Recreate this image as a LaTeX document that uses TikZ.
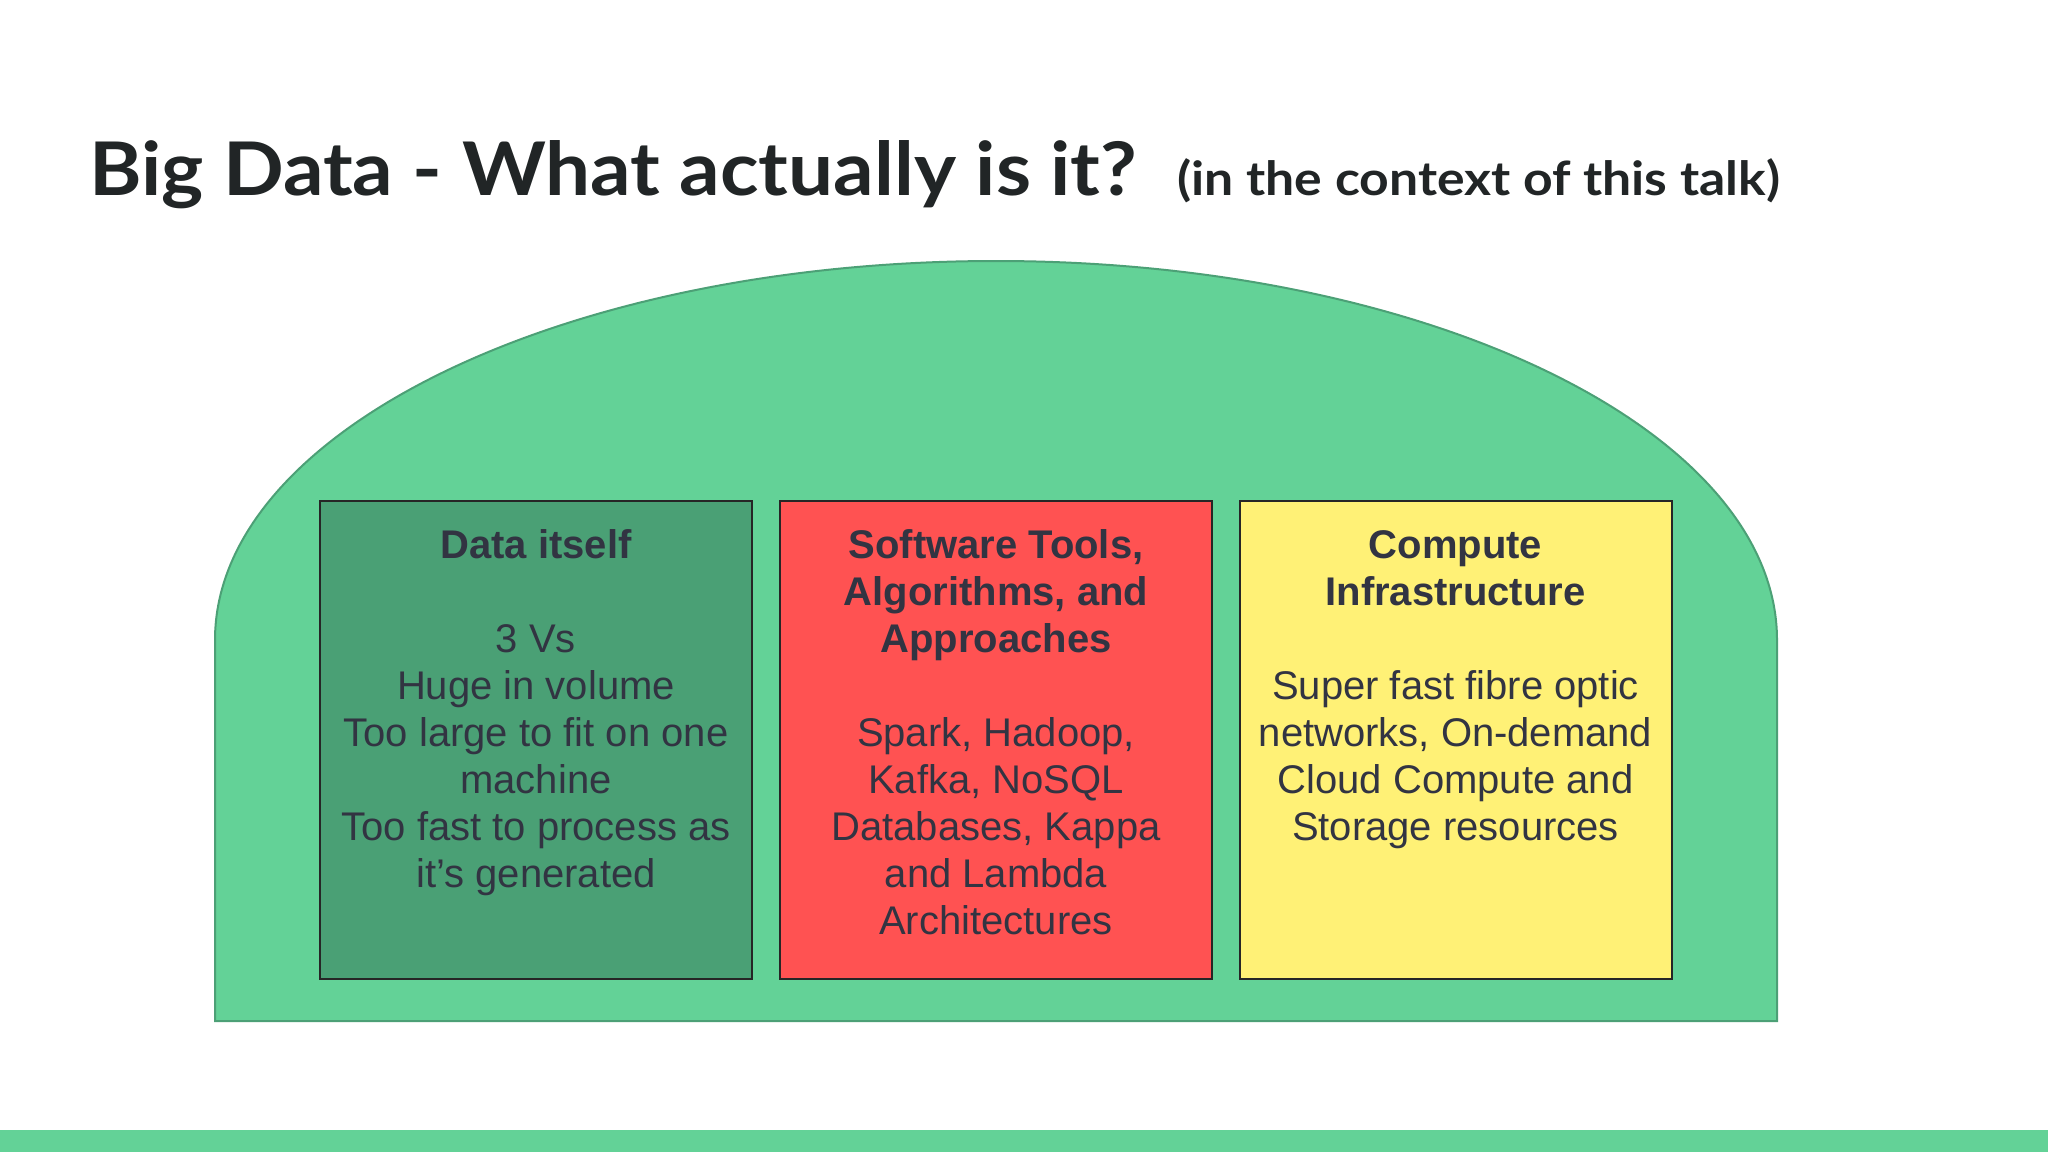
\documentclass[tikz,border=0pt]{standalone}
\usepackage{fontspec}
\setmainfont{Liberation Sans}
\newfontfamily\titlefont{Lato}
\definecolor{domefill}{RGB}{99,210,151}
\definecolor{domeline}{RGB}{76,160,118}
\definecolor{boxgreen}{RGB}{74,160,117}
\definecolor{boxred}{RGB}{255,82,82}
\definecolor{boxyellow}{RGB}{255,241,118}
\definecolor{bodytext}{RGB}{50,52,66}
\definecolor{titletext}{RGB}{33,37,38}
\tikzset{
  dome/.style={fill=domefill, draw=domeline, line width=1pt},
  pillar/.style={draw=black!85, line width=1pt, minimum width=216pt, minimum height=239pt, inner sep=0pt},
  pillartext/.style={anchor=base, inner sep=0pt, text=bodytext},
  titlestyle/.style={anchor=base west, inner sep=0pt, text=titletext, font=\titlefont\bfseries\fontsize{37pt}{40pt}\selectfont},
  subtitlestyle/.style={anchor=base west, inner sep=0pt, text=titletext, font=\titlefont\bfseries\fontsize{23.5pt}{26pt}\selectfont}
}
\newcommand{\pillarbody}[1]{\parbox[t]{212pt}{\centering\fontsize{20pt}{23.5pt}\selectfont #1}}
\begin{document}
\begin{tikzpicture}[x=0.5pt,y=-0.5pt]
\useasboundingbox (0,0) rectangle (2048,1152);
\fill[white] (0,0) rectangle (2048,1152);
% title
\node[titlestyle] (title) at (89,195) {\scalebox{1.08}[1]{Big Data - What actually is it?}};
\node[subtitlestyle] (subtitle) at (1177,195) {\scalebox{1.1}[1]{(in the context of this talk)}};
% dome
\draw[dome] (215,1021) -- (215,640) arc[start angle=180,end angle=360,x radius=781,y radius=379] -- (1777,1021) -- cycle;
% pillars
\node[pillar, fill=boxgreen] (b1) at (536,740) {};
\node[pillar, fill=boxred] (b2) at (996,740) {};
\node[pillar, fill=boxyellow] (b3) at (1455.5,740) {};
\node[pillartext] (t1) at (536,558) {\pillarbody{\textbf{Data itself}\\[23.5pt]
3 Vs\\ Huge in volume\\ Too large to fit on one\\ machine\\ Too fast to process as\\ it’s generated}};
\node[pillartext] (t2) at (996,558) {\pillarbody{\textbf{Software Tools,}\\ \textbf{Algorithms, and}\\ \textbf{Approaches}\\[23.5pt]
Spark, Hadoop,\\ Kafka, NoSQL\\ Databases, Kappa\\ and Lambda\\ Architectures}};
\node[pillartext] (t3) at (1455.5,558) {\pillarbody{\textbf{Compute}\\ \textbf{Infrastructure}\\[23.5pt]
Super fast fibre optic\\ networks, On-demand\\ Cloud Compute and\\ Storage resources}};
% bottom bar
\fill[domefill] (0,1130) rectangle (2048,1152);
\end{tikzpicture}
\end{document}
